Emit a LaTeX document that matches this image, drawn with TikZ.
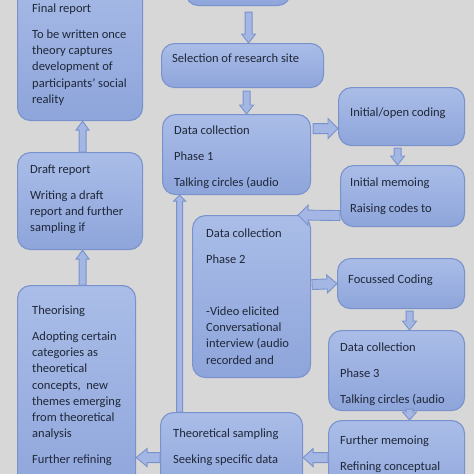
\documentclass[tikz,border=0pt]{standalone}
\usepackage{fontspec}
\setmainfont{Carlito}
\usetikzlibrary{calc}
\definecolor{bgc}{HTML}{D7D7D7}
\definecolor{boxtop}{HTML}{AABDE8}
\definecolor{boxbot}{HTML}{8EA5DB}
\definecolor{boxline}{HTML}{7A92CC}
\definecolor{arrfill}{HTML}{A3B6E4}
\definecolor{txtc}{HTML}{1F2738}
\tikzset{
  box/.style={draw=boxline, line width=1.1pt, rounded corners=13pt, top color=boxtop, bottom color=boxbot, inner sep=0pt, anchor=north west},
  txt/.style={anchor=north west, inner sep=0pt, align=left, text=txtc, font=\fontsize{12.5}{16.3}\selectfont},
  blockarr/.style={draw=boxline, line width=0.9pt, fill=arrfill, line join=miter},
}
% start, end, shaft half width, head half width, head length
\newcommand\barrow[5]{%
  \coordinate (bs) at (#1);
  \coordinate (be) at (#2);
  \coordinate (bh) at ($(be)!#5!(bs)$);
  \draw[blockarr] ($(bs)!#3!90:(be)$) -- ($(bh)!#3!90:(be)$) -- ($(bh)!#4!90:(be)$) -- (be)
    -- ($(bh)!#4!-90:(be)$) -- ($(bh)!#3!-90:(be)$) -- ($(bs)!#3!-90:(be)$) -- cycle;
}
\newcommand\gp{\\[9.7pt]}
\begin{document}
\begin{tikzpicture}[x=1pt,y=-1pt]
\useasboundingbox (0,0) rectangle (474,474);
\clip (0,0) rectangle (474,474);
\fill[bgc] (0,0) rectangle (474,474);

% boxes
\node[box, minimum width=105pt, minimum height=35pt] (top) at (185,-30) {};
\node[box, minimum width=162pt, minimum height=44pt] (sel) at (161,43) {};
\node[box, minimum width=148pt, minimum height=80pt] (dc1) at (162,114) {};
\node[box, minimum width=126pt, minimum height=58pt] (init) at (338,87) {};
\node[box, minimum width=124pt, minimum height=61pt] (mem) at (340,165) {};
\node[box, minimum width=118pt, minimum height=162pt] (dc2) at (192,215) {};
\node[box, minimum width=127pt, minimum height=50pt] (foc) at (337,258) {};
\node[box, minimum width=136pt, minimum height=80pt] (dc3) at (328,330) {};
\node[box, minimum width=136pt, minimum height=90pt] (fm) at (328,420) {};
\node[box, minimum width=142pt, minimum height=90pt] (ts) at (160,412) {};
\node[box, minimum width=118pt, minimum height=220pt] (th) at (17,285) {};
\node[box, minimum width=125pt, minimum height=97pt] (dr) at (17,152) {};
\node[box, minimum width=125pt, minimum height=160pt] (fr) at (17,-40) {};

% arrows
\barrow{$(top.south)+(10.5,6)$}{$(sel.north)+(6,0)$}{3.5pt}{7pt}{9pt}
\barrow{$(sel.south)+(4,3)$}{$(dc1.north)+(10,0)$}{3.5pt}{7pt}{9pt}
\barrow{$(dc1.east)+(2,-26)$}{$(init.west)+(0,12)$}{5pt}{10pt}{10pt}
\barrow{$(init.south)+(-4,2)$}{$(mem.north)+(-5,0)$}{3.5pt}{7pt}{9pt}
\barrow{$(mem.west)+(0,19.5)$}{$(dc2.north east)+(-13,0)$}{5pt}{10pt}{10pt}
\barrow{$(dc2.east)+(1,-12)$}{foc.west}{5pt}{9pt}{10pt}
\barrow{$(foc.south)+(8.5,2)$}{$(dc3.north)+(13,0)$}{3.5pt}{7pt}{9pt}
\barrow{$(dc3.south)+(13,-2)$}{$(fm.north)+(13,0)$}{3.5pt}{7pt}{8pt}
\barrow{$(fm.west)+(0,-8)$}{ts.east}{5pt}{9pt}{10pt}
\barrow{ts.west}{$(th.east)+(0,62)$}{5pt}{9pt}{11pt}
\barrow{$(th.north)+(6,0)$}{$(dr.south)+(2.5,0)$}{3.5pt}{6.5pt}{9pt}
\barrow{$(dr.north)+(2.5,0)$}{$(fr.south)+(2.5,0)$}{3.5pt}{6.5pt}{9pt}
\barrow{$(ts.north)+(-52,0)$}{$(dc1.south)+(-57,0)$}{3pt}{6pt}{6pt}

% texts
\node[txt] (tsel) at (172,50.5) {\strut Selection of research site};
\node[txt] (tdc1) at (174,122.5) {\strut Data collection\gp Phase 1\gp Talking circles (audio};
\node[txt] (tinit) at (350,104.5) {\strut Initial/open coding};
\node[txt] (tmem) at (350,174.5) {\strut Initial memoing\gp Raising codes to};
\node[txt] (tdc2) at (206,225.5) {\strut Data collection\gp Phase 2\gp \strut\gp -Video elicited\\Conversational\\interview (audio\\recorded and};
\node[txt] (tfoc) at (348,271.5) {\strut Focussed Coding};
\node[txt] (tdc3) at (340,339.5) {\strut Data collection\gp Phase 3\gp Talking circles (audio};
\node[txt] (tfm) at (340,432.5) {\strut Further memoing\gp Refining conceptual};
\node[txt] (tts) at (173,425.5) {\strut Theoretical sampling\gp Seeking specific data};
\node[txt] (tth) at (32,302.5) {\strut Theorising\gp Adopting certain\\categories as\\theoretical\\concepts,\ \ new\\themes emerging\\from theoretical\\analysis\gp Further refining};
\node[txt] (tdr) at (30,161.5) {\strut Draft report\gp Writing a draft\\report and further\\sampling if};
\node[txt] (tfr) at (32,0.5) {\strut Final report\gp To be written once\\theory captures\\development of\\participants’ social\\reality};
\end{tikzpicture}
\end{document}
